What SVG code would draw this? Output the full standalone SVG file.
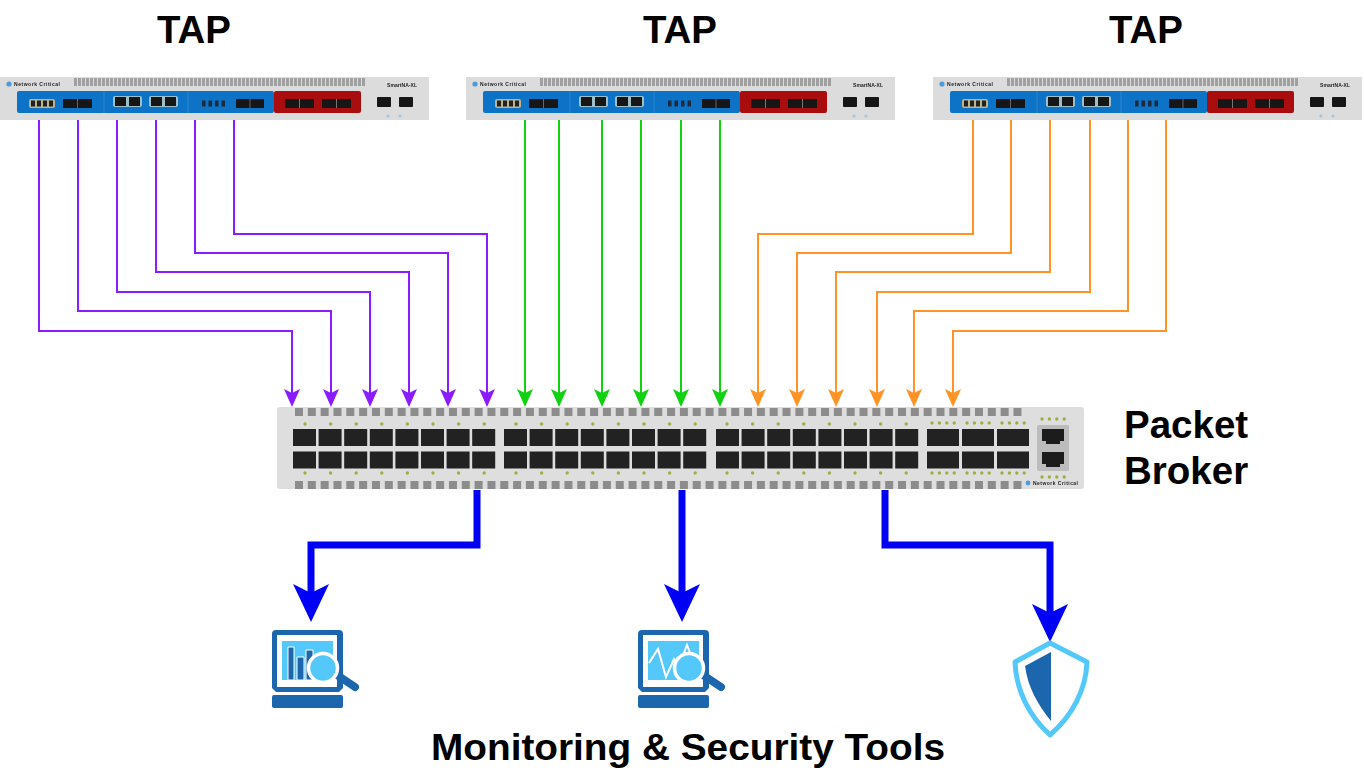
<svg xmlns="http://www.w3.org/2000/svg" width="1364" height="778" viewBox="0 0 1364 778">
<style>
.t{font-family:"Liberation Sans",Arial,sans-serif;font-weight:700;fill:#000}
.tiny{font-family:"Liberation Sans",Arial,sans-serif;font-weight:700;fill:#222;font-size:5px}
.w{fill:none;stroke-width:2;stroke-linejoin:miter}
.p{stroke:#8a1cff}.g{stroke:#12d012}.o{stroke:#ff9326}
.b{fill:none;stroke:#0000f5;stroke-width:7}
.port{stroke:#222;stroke-width:17;fill:none}
.sq{stroke:#8c8c8c;stroke-width:8;fill:none;stroke-dasharray:8 4.83}
.dot{stroke:#9bb040;stroke-width:3.4;stroke-linecap:round;fill:none;stroke-dasharray:0 25.6}
.d4{stroke:#9bb040;stroke-width:3.4;stroke-linecap:round;fill:none;stroke-dasharray:0 7.4}
.navy{fill:#1f66ad}.sky{fill:#55c8fb}
</style>
<defs>
<filter id="soft" x="-10%" y="-10%" width="120%" height="120%"><feGaussianBlur stdDeviation="0.7"/></filter>
<marker id="mp" markerUnits="userSpaceOnUse" markerWidth="16" markerHeight="18" refX="8" refY="11" viewBox="0 0 16 18"><path d="M0 0 8 4 16 0 8 18Z" fill="#8a1cff"/></marker>
<marker id="mg" markerUnits="userSpaceOnUse" markerWidth="16" markerHeight="18" refX="8" refY="11" viewBox="0 0 16 18"><path d="M0 0 8 4 16 0 8 18Z" fill="#12d012"/></marker>
<marker id="mo" markerUnits="userSpaceOnUse" markerWidth="16" markerHeight="18" refX="8" refY="11" viewBox="0 0 16 18"><path d="M0 0 8 4 16 0 8 18Z" fill="#ff9326"/></marker>
<marker id="mb" markerUnits="userSpaceOnUse" markerWidth="36" markerHeight="38" refX="18" refY="18" viewBox="0 0 36 38"><path d="M0 0 18 9 36 0 18 38Z" fill="#0000f5"/></marker>
<g id="tapdev" filter="url(#soft)">
<rect x="0" y="77" width="429" height="43" fill="#dcdcdc"/>
<path d="M74 82H366" stroke="#a0a0a0" stroke-width="8" fill="none" stroke-dasharray="3 1"/>
<circle cx="9" cy="84" r="2.6" fill="#4f9ad8"/>
<text class="tiny" x="14" y="86" textLength="46">Network Critical</text>
<text class="tiny" x="387" y="87" textLength="30">SmartNA-XL</text>
<rect x="17" y="91" width="257" height="22" rx="2" fill="#0f73c6"/>
<rect x="274" y="91" width="87" height="22" rx="2" fill="#a90a0a"/>
<path d="M104 91V113M188 91V113" stroke="#2a86d2" stroke-width="1"/>
<rect x="29" y="99" width="26" height="9" rx="2" fill="#bdb38f"/>
<path d="M31 103.500H53" stroke="#222" stroke-width="6" stroke-dasharray="4 2" fill="none"/>
<rect x="63" y="99" width="29" height="9" fill="#141414"/><rect x="77" y="99" width="1" height="9" fill="#666"/>
<rect x="113" y="96" width="29" height="11" rx="2" fill="#9dbfc9"/><rect x="115" y="97" width="11" height="9" fill="#141414"/><rect x="129" y="97" width="11" height="9" fill="#141414"/>
<rect x="149" y="96" width="29" height="11" rx="2" fill="#9dbfc9"/><rect x="151" y="97" width="11" height="9" fill="#141414"/><rect x="165" y="97" width="11" height="9" fill="#141414"/>
<path d="M202 103.500H227" stroke="#1a2a3a" stroke-width="6" stroke-dasharray="3.5 3" fill="none"/>
<rect x="236" y="99" width="28" height="9" fill="#141414"/><rect x="249.500" y="99" width="1" height="9" fill="#666"/>
<rect x="285" y="99" width="29" height="9" fill="#141414"/><rect x="299" y="99" width="1" height="9" fill="#777"/>
<rect x="322" y="99" width="29" height="9" fill="#141414"/><rect x="336" y="99" width="1" height="9" fill="#777"/>
<rect x="377" y="97" width="14" height="10" rx="1" fill="#141414"/>
<rect x="399" y="97" width="14" height="10" rx="1" fill="#141414"/>
<circle cx="388" cy="116" r="1.6" fill="#9cc7e8"/><circle cx="400" cy="116" r="1.6" fill="#9cc7e8"/>
</g>
</defs>
<rect width="1364" height="778" fill="#fff"/>

<g id="tap1"><use href="#tapdev"/><text class="t" x="157" y="43" font-size="38" textLength="74" lengthAdjust="spacingAndGlyphs">TAP</text></g>
<g id="tap2"><use href="#tapdev" x="466"/><text class="t" x="643" y="43" font-size="38" textLength="74" lengthAdjust="spacingAndGlyphs">TAP</text></g>
<g id="tap3"><use href="#tapdev" x="933"/><text class="t" x="1109" y="43" font-size="38" textLength="74" lengthAdjust="spacingAndGlyphs">TAP</text></g>

<g id="packet-broker">
<g filter="url(#soft)">
<rect x="277" y="407" width="807" height="82" rx="3" fill="#dedede"/>
<path class="sq" d="M295 412H1022"/>
<path class="sq" d="M295 485H1022"/>
<path class="dot" d="M305 424H486"/><path class="dot" d="M305 473H486"/>
<path class="dot" d="M516 424H697"/><path class="dot" d="M516 473H697"/>
<path class="dot" d="M727 424H908"/><path class="dot" d="M727 473H908"/>
<g stroke-dasharray="23 2.6">
<path class="port" d="M293 437.500H497"/><path class="port" d="M504 437.500H708"/><path class="port" d="M716 437.500H920"/>
<path class="port" d="M293 460H497"/><path class="port" d="M504 460H708"/><path class="port" d="M716 460H920"/>
</g>
<path class="port" d="M927 437.500H959M962 437.500H994M997 437.500H1029"/>
<path class="port" d="M927 460H959M962 460H994M997 460H1029"/>
<path class="d4" d="M932 423H955M967 423H990M1002 423H1025"/>
<path class="d4" d="M932 473H955M967 473H990M1002 473H1025"/>
<path class="d4" d="M1042 419H1065"/><path class="d4" d="M1042 477H1065"/>
<rect x="1037" y="425" width="32" height="46" rx="2" fill="#bcbcbc"/>
<path d="M1042 429H1064V441H1060V444H1046V441H1042Z" fill="#1c1c1c"/>
<path d="M1042 452H1064V464H1060V467H1046V464H1042Z" fill="#1c1c1c"/>
<circle cx="1028" cy="483" r="2.400" fill="#4f9ad8"/>
<text class="tiny" x="1033" y="485" textLength="45">Network Critical</text>
</g>
<text class="t" x="1124" y="438" font-size="38.500">Packet</text>
<text class="t" x="1124" y="484" font-size="38.500">Broker</text>
</g>

<g id="connectors">
<path class="w p" marker-end="url(#mp)" d="M39 120V331H292V400"/>
<path class="w p" marker-end="url(#mp)" d="M78 120V311H331V400"/>
<path class="w p" marker-end="url(#mp)" d="M117 120V292H370V400"/>
<path class="w p" marker-end="url(#mp)" d="M156 120V272H409V400"/>
<path class="w p" marker-end="url(#mp)" d="M195 120V253H448V400"/>
<path class="w p" marker-end="url(#mp)" d="M234 120V234H487V400"/>
<path class="w g" marker-end="url(#mg)" d="M525 120V400"/>
<path class="w g" marker-end="url(#mg)" d="M559 120V400"/>
<path class="w g" marker-end="url(#mg)" d="M602 120V400"/>
<path class="w g" marker-end="url(#mg)" d="M641 120V400"/>
<path class="w g" marker-end="url(#mg)" d="M681 120V400"/>
<path class="w g" marker-end="url(#mg)" d="M720 120V400"/>
<path class="w o" marker-end="url(#mo)" d="M973 120V234H758V400"/>
<path class="w o" marker-end="url(#mo)" d="M1011 120V253H797V400"/>
<path class="w o" marker-end="url(#mo)" d="M1050 120V272H836V400"/>
<path class="w o" marker-end="url(#mo)" d="M1090 120V292H877V400"/>
<path class="w o" marker-end="url(#mo)" d="M1128 120V311H914V400"/>
<path class="w o" marker-end="url(#mo)" d="M1166 120V331H953V400"/>
<path class="b" marker-end="url(#mb)" d="M477 490V545H311V602"/>
<path class="b" marker-end="url(#mb)" d="M682 490V602"/>
<path class="b" marker-end="url(#mb)" d="M885 490V545H1050V622"/>
</g>

<g id="tool-reports" filter="url(#soft)">
<path class="navy" d="M276 630H339a4 4 0 0 1 4 4V688l-4 4H276l-4-4V634a4 4 0 0 1 4-4Z"/>
<rect x="277" y="635" width="60" height="52" fill="#fff"/>
<rect x="282" y="641" width="51" height="39" class="sky"/>
<path class="navy" stroke="#fff" stroke-width="1" d="M288 647h6v33h-6ZM297 657h7v23h-7ZM306 650h7v30h-7Z"/>
<rect x="272" y="695" width="71" height="13" rx="2" class="navy"/>
<path d="M337 675 355 687" stroke="#1f66ad" stroke-width="8" stroke-linecap="round"/>
<circle cx="323" cy="668" r="14.500" fill="#55c8fb" stroke="#fff" stroke-width="3.500"/>
</g>

<g id="tool-monitor" filter="url(#soft)">
<path class="navy" d="M642 630H705a4 4 0 0 1 4 4V688l-4 4H642l-4-4V634a4 4 0 0 1 4-4Z"/>
<rect x="643" y="635" width="60" height="52" fill="#fff"/>
<rect x="648" y="641" width="51" height="39" class="sky"/>
<path d="M649 663 658 649 666 677 674 659 680 668M682 658 687 645 692 658" fill="none" stroke="#fff" stroke-width="2"/>
<rect x="638" y="695" width="71" height="13" rx="2" class="navy"/>
<path d="M703 675 721 687" stroke="#1f66ad" stroke-width="8" stroke-linecap="round"/>
<circle cx="689" cy="668" r="14.500" fill="#55c8fb" stroke="#fff" stroke-width="3.500"/>
</g>

<g id="tool-security" filter="url(#soft)">
<path d="M1050 643 1087 662C1086 690 1072 716 1050 735 1029 716 1016 690 1015 662Z" fill="#fff" stroke="#55c8fb" stroke-width="5" stroke-linejoin="round"/>
<path class="navy" d="M1051 652V721C1038 705 1028 688 1025 666Z"/>
</g>

<text id="tools-label" class="t" x="431" y="760" font-size="37.500" textLength="514" lengthAdjust="spacingAndGlyphs">Monitoring &amp; Security Tools</text>
</svg>
